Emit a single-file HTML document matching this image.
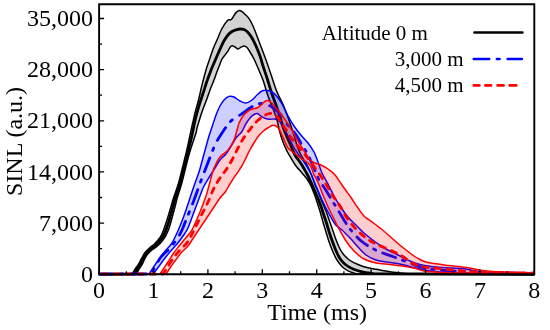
<!DOCTYPE html>
<html lang="en"><head><meta charset="utf-8"><title>SINL vs Time</title>
<style>html,body{margin:0;padding:0;background:#fff}body{width:550px;height:330px;overflow:hidden}svg{display:block}</style></head>
<body>
<svg width="550" height="330" viewBox="0 0 550 330">
<rect width="550" height="330" fill="#fff"/>
<g fill="none" stroke="#000" stroke-linejoin="round">
<path d="M132.5 274.0C132.8 273.3 133.8 271.2 134.5 270.0C135.2 268.8 135.8 268.0 136.5 267.0C137.2 266.0 137.7 265.6 138.6 264.0C139.5 262.4 140.9 259.6 142.0 257.6C143.1 255.7 143.9 253.9 145.2 252.3C146.4 250.7 147.9 249.5 149.5 248.0C151.1 246.5 153.2 245.4 155.0 243.5C156.8 241.6 159.0 239.3 160.6 236.7C162.2 234.1 163.1 231.1 164.3 228.0C165.5 224.9 166.6 221.3 167.6 218.0C168.6 214.7 169.6 211.3 170.6 208.0C171.6 204.7 172.6 201.0 173.5 198.0C174.4 195.0 175.4 192.7 176.3 190.0C177.2 187.3 178.1 185.0 178.9 182.0C179.8 179.0 180.5 175.7 181.4 172.0C182.3 168.3 183.4 164.0 184.4 160.0C185.4 156.0 186.3 152.5 187.3 148.0C188.3 143.5 189.7 136.7 190.5 133.0C191.3 129.3 191.2 129.3 192.0 126.0C192.8 122.7 193.9 117.3 195.0 113.0C196.1 108.7 197.2 105.0 198.5 100.0C199.8 95.0 201.2 88.0 202.5 83.0C203.8 78.0 204.8 74.2 206.0 70.0C207.2 65.8 208.8 61.7 210.0 58.0C211.2 54.3 212.3 51.0 213.5 48.0C214.7 45.0 215.6 43.2 217.0 40.0C218.4 36.8 220.2 31.8 222.0 28.5C223.8 25.2 226.0 22.0 227.5 20.5C229.0 19.0 230.0 20.4 231.0 19.7C232.0 19.0 232.7 17.5 233.5 16.3C234.3 15.1 235.0 13.6 236.0 12.6C237.0 11.6 238.4 10.8 239.4 10.6C240.4 10.4 241.2 11.1 242.0 11.6C242.8 12.1 243.2 12.6 244.3 13.7C245.4 14.8 247.2 16.1 248.5 17.9C249.8 19.7 251.1 21.9 252.3 24.5C253.6 27.1 254.5 29.6 256.0 33.5C257.5 37.4 259.8 43.6 261.5 48.0C263.2 52.4 264.3 55.3 266.0 60.0C267.7 64.7 269.7 70.7 271.5 76.0C273.3 81.3 274.8 86.7 277.0 92.0C279.2 97.3 282.2 102.3 284.5 108.0C286.8 113.7 289.3 121.2 291.0 126.0C292.7 130.8 293.4 133.5 294.5 137.0C295.6 140.5 296.5 144.2 297.5 147.0C298.5 149.8 299.4 151.8 300.5 154.0C301.6 156.2 302.8 157.8 304.0 160.0C305.2 162.2 306.7 164.4 308.0 167.0C309.3 169.6 310.5 172.6 311.7 175.5C312.9 178.4 313.8 181.3 315.0 184.4C316.2 187.5 317.8 190.9 319.0 194.0C320.2 197.1 321.3 200.2 322.5 203.0C323.7 205.8 324.8 208.0 326.0 211.0C327.2 214.0 328.3 217.7 329.5 221.0C330.7 224.3 331.8 227.7 333.0 231.0C334.2 234.3 335.3 238.0 336.5 241.0C337.7 244.0 338.8 246.7 340.0 249.0C341.2 251.3 342.3 253.1 344.0 255.0C345.7 256.9 347.7 258.9 350.0 260.5C352.3 262.1 355.3 263.4 358.0 264.5C360.7 265.6 363.0 266.5 366.0 267.3C369.0 268.1 372.7 268.7 376.0 269.3C379.3 269.9 382.7 270.4 386.0 271.0C389.3 271.6 392.3 272.1 396.0 272.6C399.7 273.1 406.0 273.6 408.0 273.8L356.0 273.8C354.7 273.3 350.3 272.0 348.0 270.8C345.7 269.6 343.8 268.3 342.0 266.5C340.2 264.7 338.5 262.4 337.0 260.0C335.5 257.6 334.2 254.8 333.0 252.0C331.8 249.2 330.7 246.3 329.5 243.0C328.3 239.7 327.1 235.5 326.0 232.0C324.9 228.5 323.9 225.2 323.0 222.0C322.1 218.8 321.3 215.8 320.5 213.0C319.7 210.2 318.9 207.8 318.0 205.0C317.1 202.2 316.2 199.2 315.0 196.0C313.8 192.8 312.3 188.8 311.0 186.0C309.7 183.2 308.5 181.2 307.0 179.0C305.5 176.8 303.8 175.2 302.0 173.0C300.2 170.8 297.8 168.5 296.0 166.0C294.2 163.5 292.5 160.5 291.0 158.0C289.5 155.5 288.3 153.7 287.0 151.0C285.7 148.3 284.2 145.3 283.0 142.0C281.8 138.7 280.5 134.7 279.5 131.0C278.5 127.3 278.0 123.5 277.0 120.0C276.0 116.5 275.0 114.0 273.5 110.0C272.0 106.0 269.8 101.0 268.0 96.0C266.2 91.0 264.7 84.7 263.0 80.0C261.3 75.3 259.5 71.5 258.0 68.0C256.5 64.5 255.3 61.7 254.0 59.0C252.7 56.3 251.2 53.9 250.0 52.0C248.8 50.1 248.0 48.5 247.0 47.5C246.0 46.5 245.0 46.0 244.0 46.0C243.0 46.0 242.0 46.7 241.0 47.2C240.0 47.7 239.0 49.0 238.0 49.0C237.0 49.0 236.0 47.5 235.0 47.0C234.0 46.5 232.8 45.7 232.0 45.8C231.2 45.9 230.7 46.6 230.0 47.5C229.3 48.4 228.8 49.8 228.0 51.0C227.2 52.2 226.0 53.7 225.0 55.0C224.0 56.3 222.8 57.5 222.0 59.0C221.2 60.5 220.7 62.3 220.0 64.0C219.3 65.7 218.6 67.5 218.0 69.0C217.4 70.5 217.2 71.2 216.5 73.0C215.8 74.8 215.1 77.2 214.0 80.0C212.9 82.8 211.2 86.7 210.0 90.0C208.8 93.3 207.7 96.8 206.5 100.0C205.3 103.2 204.1 106.0 203.0 109.0C201.9 112.0 201.0 114.8 200.0 118.0C199.0 121.2 197.7 125.5 197.0 128.0C196.3 130.5 197.0 129.7 196.0 133.0C195.0 136.3 192.4 143.5 191.0 148.0C189.6 152.5 188.7 156.0 187.6 160.0C186.5 164.0 185.5 168.3 184.6 172.0C183.7 175.7 182.9 179.0 182.1 182.0C181.3 185.0 180.5 187.3 179.7 190.0C178.9 192.7 178.0 195.0 177.2 198.0C176.4 201.0 175.6 204.7 174.7 208.0C173.8 211.3 172.9 214.7 172.0 218.0C171.1 221.3 170.1 225.1 169.1 228.0C168.1 230.9 167.1 233.3 165.8 235.6C164.5 237.9 163.0 240.1 161.4 242.0C159.8 243.9 157.8 245.7 156.0 247.2C154.2 248.7 152.3 249.5 150.7 251.0C149.1 252.5 147.6 254.0 146.2 256.2C144.8 258.4 143.3 262.2 142.4 264.0C141.5 265.8 141.2 266.0 140.5 267.0C139.8 268.0 139.2 268.8 138.5 270.0C137.8 271.2 136.8 273.3 136.5 274.0Z" fill="#d3d3d3" stroke="none"/>
<path d="M132.5 274.0C132.8 273.3 133.8 271.2 134.5 270.0C135.2 268.8 135.8 268.0 136.5 267.0C137.2 266.0 137.7 265.6 138.6 264.0C139.5 262.4 140.9 259.6 142.0 257.6C143.1 255.7 143.9 253.9 145.2 252.3C146.4 250.7 147.9 249.5 149.5 248.0C151.1 246.5 153.2 245.4 155.0 243.5C156.8 241.6 159.0 239.3 160.6 236.7C162.2 234.1 163.1 231.1 164.3 228.0C165.5 224.9 166.6 221.3 167.6 218.0C168.6 214.7 169.6 211.3 170.6 208.0C171.6 204.7 172.6 201.0 173.5 198.0C174.4 195.0 175.4 192.7 176.3 190.0C177.2 187.3 178.1 185.0 178.9 182.0C179.8 179.0 180.5 175.7 181.4 172.0C182.3 168.3 183.4 164.0 184.4 160.0C185.4 156.0 186.3 152.5 187.3 148.0C188.3 143.5 189.7 136.7 190.5 133.0C191.3 129.3 191.2 129.3 192.0 126.0C192.8 122.7 193.9 117.3 195.0 113.0C196.1 108.7 197.2 105.0 198.5 100.0C199.8 95.0 201.2 88.0 202.5 83.0C203.8 78.0 204.8 74.2 206.0 70.0C207.2 65.8 208.8 61.7 210.0 58.0C211.2 54.3 212.3 51.0 213.5 48.0C214.7 45.0 215.6 43.2 217.0 40.0C218.4 36.8 220.2 31.8 222.0 28.5C223.8 25.2 226.0 22.0 227.5 20.5C229.0 19.0 230.0 20.4 231.0 19.7C232.0 19.0 232.7 17.5 233.5 16.3C234.3 15.1 235.0 13.6 236.0 12.6C237.0 11.6 238.4 10.8 239.4 10.6C240.4 10.4 241.2 11.1 242.0 11.6C242.8 12.1 243.2 12.6 244.3 13.7C245.4 14.8 247.2 16.1 248.5 17.9C249.8 19.7 251.1 21.9 252.3 24.5C253.6 27.1 254.5 29.6 256.0 33.5C257.5 37.4 259.8 43.6 261.5 48.0C263.2 52.4 264.3 55.3 266.0 60.0C267.7 64.7 269.7 70.7 271.5 76.0C273.3 81.3 274.8 86.7 277.0 92.0C279.2 97.3 282.2 102.3 284.5 108.0C286.8 113.7 289.3 121.2 291.0 126.0C292.7 130.8 293.4 133.5 294.5 137.0C295.6 140.5 296.5 144.2 297.5 147.0C298.5 149.8 299.4 151.8 300.5 154.0C301.6 156.2 302.8 157.8 304.0 160.0C305.2 162.2 306.7 164.4 308.0 167.0C309.3 169.6 310.5 172.6 311.7 175.5C312.9 178.4 313.8 181.3 315.0 184.4C316.2 187.5 317.8 190.9 319.0 194.0C320.2 197.1 321.3 200.2 322.5 203.0C323.7 205.8 324.8 208.0 326.0 211.0C327.2 214.0 328.3 217.7 329.5 221.0C330.7 224.3 331.8 227.7 333.0 231.0C334.2 234.3 335.3 238.0 336.5 241.0C337.7 244.0 338.8 246.7 340.0 249.0C341.2 251.3 342.3 253.1 344.0 255.0C345.7 256.9 347.7 258.9 350.0 260.5C352.3 262.1 355.3 263.4 358.0 264.5C360.7 265.6 363.0 266.5 366.0 267.3C369.0 268.1 372.7 268.7 376.0 269.3C379.3 269.9 382.7 270.4 386.0 271.0C389.3 271.6 392.3 272.1 396.0 272.6C399.7 273.1 406.0 273.6 408.0 273.8L534.3 274.4" stroke-width="1.5"/>
<path d="M136.5 274.0C136.8 273.3 137.8 271.2 138.5 270.0C139.2 268.8 139.8 268.0 140.5 267.0C141.2 266.0 141.5 265.8 142.4 264.0C143.3 262.2 144.8 258.4 146.2 256.2C147.6 254.0 149.1 252.5 150.7 251.0C152.3 249.5 154.2 248.7 156.0 247.2C157.8 245.7 159.8 243.9 161.4 242.0C163.0 240.1 164.5 237.9 165.8 235.6C167.1 233.3 168.1 230.9 169.1 228.0C170.1 225.1 171.1 221.3 172.0 218.0C172.9 214.7 173.8 211.3 174.7 208.0C175.6 204.7 176.4 201.0 177.2 198.0C178.0 195.0 178.9 192.7 179.7 190.0C180.5 187.3 181.3 185.0 182.1 182.0C182.9 179.0 183.7 175.7 184.6 172.0C185.5 168.3 186.5 164.0 187.6 160.0C188.7 156.0 189.6 152.5 191.0 148.0C192.4 143.5 195.0 136.3 196.0 133.0C197.0 129.7 196.3 130.5 197.0 128.0C197.7 125.5 199.0 121.2 200.0 118.0C201.0 114.8 201.9 112.0 203.0 109.0C204.1 106.0 205.3 103.2 206.5 100.0C207.7 96.8 208.8 93.3 210.0 90.0C211.2 86.7 212.9 82.8 214.0 80.0C215.1 77.2 215.8 74.8 216.5 73.0C217.2 71.2 217.4 70.5 218.0 69.0C218.6 67.5 219.3 65.7 220.0 64.0C220.7 62.3 221.2 60.5 222.0 59.0C222.8 57.5 224.0 56.3 225.0 55.0C226.0 53.7 227.2 52.2 228.0 51.0C228.8 49.8 229.3 48.4 230.0 47.5C230.7 46.6 231.2 45.9 232.0 45.8C232.8 45.7 234.0 46.5 235.0 47.0C236.0 47.5 237.0 49.0 238.0 49.0C239.0 49.0 240.0 47.7 241.0 47.2C242.0 46.7 243.0 46.0 244.0 46.0C245.0 46.0 246.0 46.5 247.0 47.5C248.0 48.5 248.8 50.1 250.0 52.0C251.2 53.9 252.7 56.3 254.0 59.0C255.3 61.7 256.5 64.5 258.0 68.0C259.5 71.5 261.3 75.3 263.0 80.0C264.7 84.7 266.2 91.0 268.0 96.0C269.8 101.0 272.0 106.0 273.5 110.0C275.0 114.0 276.0 116.5 277.0 120.0C278.0 123.5 278.5 127.3 279.5 131.0C280.5 134.7 281.8 138.7 283.0 142.0C284.2 145.3 285.7 148.3 287.0 151.0C288.3 153.7 289.5 155.5 291.0 158.0C292.5 160.5 294.2 163.5 296.0 166.0C297.8 168.5 300.2 170.8 302.0 173.0C303.8 175.2 305.5 176.8 307.0 179.0C308.5 181.2 309.7 183.2 311.0 186.0C312.3 188.8 313.8 192.8 315.0 196.0C316.2 199.2 317.1 202.2 318.0 205.0C318.9 207.8 319.7 210.2 320.5 213.0C321.3 215.8 322.1 218.8 323.0 222.0C323.9 225.2 324.9 228.5 326.0 232.0C327.1 235.5 328.3 239.7 329.5 243.0C330.7 246.3 331.8 249.2 333.0 252.0C334.2 254.8 335.5 257.6 337.0 260.0C338.5 262.4 340.2 264.7 342.0 266.5C343.8 268.3 345.7 269.6 348.0 270.8C350.3 272.0 354.7 273.3 356.0 273.8L534.3 274.4" stroke-width="1.5"/>
<path d="M100 274.4L134.5 274.0C134.8 273.3 135.8 271.2 136.5 270.0C137.2 268.8 137.8 268.0 138.5 267.0C139.2 266.0 139.6 265.7 140.5 264.0C141.4 262.3 142.8 258.9 144.1 256.9C145.3 254.8 146.6 253.2 148.0 251.7C149.4 250.1 151.1 249.1 152.8 247.6C154.5 246.1 156.5 244.7 158.2 242.8C159.9 240.9 161.8 238.7 163.2 236.2C164.6 233.7 165.6 231.0 166.7 228.0C167.8 225.0 168.8 221.3 169.8 218.0C170.8 214.7 171.7 211.3 172.6 208.0C173.5 204.7 174.4 201.0 175.3 198.0C176.2 195.0 177.1 192.7 178.0 190.0C178.9 187.3 179.7 185.0 180.5 182.0C181.3 179.0 182.1 175.7 183.0 172.0C183.9 168.3 185.0 164.0 186.0 160.0C187.0 156.0 187.9 152.5 189.0 148.0C190.1 143.5 191.6 137.2 192.5 133.0C193.4 128.8 193.7 126.7 194.5 123.0C195.3 119.3 196.5 114.7 197.5 111.0C198.5 107.3 199.5 104.2 200.5 101.0C201.5 97.8 202.4 95.3 203.5 92.0C204.6 88.7 205.8 84.4 207.0 81.0C208.2 77.6 209.4 74.4 210.5 71.5C211.6 68.6 212.7 66.1 213.8 63.5C214.9 60.9 215.8 58.8 217.0 56.0C218.2 53.2 219.8 49.7 221.0 47.0C222.2 44.3 223.3 42.0 224.5 40.0C225.7 38.0 226.8 36.4 228.0 35.0C229.2 33.6 230.7 32.4 232.0 31.5C233.3 30.6 234.7 30.2 236.0 29.8C237.3 29.4 238.7 29.0 240.0 29.0C241.3 29.0 242.7 29.0 244.0 29.6C245.3 30.2 246.7 31.1 248.0 32.5C249.3 33.9 250.7 35.8 252.0 38.0C253.3 40.2 254.7 43.0 256.0 46.0C257.3 49.0 258.8 52.7 260.0 56.0C261.2 59.3 261.8 62.3 263.0 66.0C264.2 69.7 265.5 73.3 267.0 78.0C268.5 82.7 270.5 89.5 272.0 94.0C273.5 98.5 274.7 101.2 276.0 105.0C277.3 108.8 278.8 113.3 280.0 117.0C281.2 120.7 281.8 123.7 283.0 127.0C284.2 130.3 285.7 133.8 287.0 137.0C288.3 140.2 289.7 143.0 291.0 146.0C292.3 149.0 293.8 152.7 295.0 155.0C296.2 157.3 297.2 158.2 298.5 160.0C299.8 161.8 301.2 163.8 302.5 166.0C303.8 168.2 305.2 170.7 306.5 173.0C307.8 175.3 308.8 177.5 310.0 180.0C311.2 182.5 312.3 185.3 313.5 188.0C314.7 190.7 315.8 193.2 317.0 196.0C318.2 198.8 319.4 202.0 320.5 205.0C321.6 208.0 322.5 211.0 323.5 214.0C324.5 217.0 325.5 219.8 326.5 223.0C327.5 226.2 328.4 229.7 329.5 233.0C330.6 236.3 331.8 239.7 333.0 243.0C334.2 246.3 335.7 250.2 337.0 253.0C338.3 255.8 339.5 258.0 341.0 260.0C342.5 262.0 344.0 263.5 346.0 265.0C348.0 266.5 350.3 267.9 353.0 269.0C355.7 270.1 358.5 271.0 362.0 271.8C365.5 272.6 372.0 273.3 374.0 273.6L533.6 274.4" stroke-width="2.8" stroke-linecap="round"/>
</g>
<g fill="none" stroke="#0000ff" stroke-linejoin="round">
<path d="M149.0 274.0C149.7 273.0 151.7 270.0 153.0 268.0C154.3 266.0 155.5 264.2 157.0 262.0C158.5 259.8 160.3 257.2 162.0 255.0C163.7 252.8 165.3 251.0 167.0 249.0C168.7 247.0 170.3 245.7 172.0 243.0C173.7 240.3 175.3 236.7 177.0 233.0C178.7 229.3 180.5 224.8 182.0 221.0C183.5 217.2 184.7 213.8 186.0 210.0C187.3 206.2 188.7 202.0 190.0 198.0C191.3 194.0 192.5 190.3 194.0 186.0C195.5 181.7 197.3 177.3 199.0 172.0C200.7 166.7 202.3 160.0 204.0 154.0C205.7 148.0 207.5 141.0 209.0 136.0C210.5 131.0 211.8 127.7 213.0 124.0C214.2 120.3 215.2 117.0 216.4 114.0C217.6 111.0 218.7 108.3 220.0 106.0C221.3 103.7 222.5 101.6 224.0 100.0C225.5 98.4 227.3 96.9 229.0 96.4C230.7 95.9 232.2 96.2 234.0 97.0C235.8 97.8 238.0 100.0 240.0 101.0C242.0 102.0 244.0 103.2 246.0 103.0C248.0 102.8 250.2 101.3 252.0 100.0C253.8 98.7 255.3 96.5 257.0 95.0C258.7 93.5 260.3 91.8 262.0 91.0C263.7 90.2 265.3 90.2 267.0 90.4C268.7 90.6 270.3 91.0 272.0 92.0C273.7 93.0 275.3 94.5 277.0 96.5C278.7 98.5 280.2 100.8 282.0 104.0C283.8 107.2 286.0 112.3 288.0 116.0C290.0 119.7 292.0 123.0 294.0 126.0C296.0 129.0 297.7 131.2 300.0 134.0C302.3 136.8 305.7 140.0 308.0 143.0C310.3 146.0 312.3 148.8 314.0 152.0C315.7 155.2 316.7 158.5 318.0 162.0C319.3 165.5 320.3 169.3 322.0 173.0C323.7 176.7 326.0 180.2 328.0 184.0C330.0 187.8 332.0 192.3 334.0 196.0C336.0 199.7 337.7 202.5 340.0 206.0C342.3 209.5 345.3 213.8 348.0 217.0C350.7 220.2 353.3 222.3 356.0 225.0C358.7 227.7 361.0 230.3 364.0 233.0C367.0 235.7 370.3 238.3 374.0 241.0C377.7 243.7 382.0 246.7 386.0 249.0C390.0 251.3 394.0 253.0 398.0 255.0C402.0 257.0 406.3 259.4 410.0 261.0C413.7 262.6 415.7 263.5 420.0 264.5C424.3 265.5 430.7 266.4 436.0 267.0C441.3 267.6 446.7 267.6 452.0 268.0C457.3 268.4 463.3 268.7 468.0 269.4C472.7 270.1 476.0 271.4 480.0 272.0C484.0 272.6 487.0 273.0 492.0 273.2C497.0 273.4 507.0 273.2 510.0 273.2L480.0 273.2C476.7 273.2 466.7 273.4 460.0 273.2C453.3 273.0 446.0 272.5 440.0 272.0C434.0 271.5 428.3 270.8 424.0 270.0C419.7 269.2 417.7 268.4 414.0 267.5C410.3 266.6 406.0 265.3 402.0 264.5C398.0 263.7 394.3 263.2 390.0 262.5C385.7 261.8 380.0 261.2 376.0 260.0C372.0 258.8 369.0 257.2 366.0 255.0C363.0 252.8 360.7 249.8 358.0 247.0C355.3 244.2 352.7 240.8 350.0 238.0C347.3 235.2 344.5 232.3 342.0 230.0C339.5 227.7 337.3 227.0 335.0 224.0C332.7 221.0 330.2 216.0 328.0 212.0C325.8 208.0 324.0 204.3 322.0 200.0C320.0 195.7 318.0 190.7 316.0 186.0C314.0 181.3 312.0 176.0 310.0 172.0C308.0 168.0 306.0 165.0 304.0 162.0C302.0 159.0 299.8 156.7 298.0 154.0C296.2 151.3 294.7 149.0 293.0 146.0C291.3 143.0 289.5 139.0 288.0 136.0C286.5 133.0 285.3 130.3 284.0 128.0C282.7 125.7 281.5 123.5 280.0 122.0C278.5 120.5 276.9 119.5 275.0 119.0C273.1 118.5 270.9 119.7 268.7 119.3C266.5 118.9 263.9 117.8 262.0 116.8C260.1 115.8 258.8 113.9 257.5 113.5C256.2 113.1 255.2 113.8 254.0 114.5C252.8 115.2 251.4 116.4 250.0 118.0C248.6 119.6 247.2 121.7 245.8 124.0C244.4 126.3 243.3 129.7 241.7 132.0C240.1 134.3 237.9 135.3 236.0 138.0C234.1 140.7 231.7 145.3 230.0 148.0C228.3 150.7 227.7 152.0 226.0 154.0C224.3 156.0 221.8 157.7 220.0 160.0C218.2 162.3 216.7 165.3 215.0 168.0C213.3 170.7 211.8 173.0 210.0 176.0C208.2 179.0 205.7 182.7 204.0 186.0C202.3 189.3 201.7 191.7 200.0 196.0C198.3 200.3 196.0 206.7 194.0 212.0C192.0 217.3 189.8 224.0 188.0 228.0C186.2 232.0 184.8 233.3 183.0 236.0C181.2 238.7 179.3 241.2 177.0 244.0C174.7 246.8 171.5 250.0 169.0 253.0C166.5 256.0 164.0 259.3 162.0 262.0C160.0 264.7 158.5 267.0 157.0 269.0C155.5 271.0 153.7 273.2 153.0 274.0Z" fill="#0000ff" fill-opacity="0.19" stroke="none"/>
<path d="M149.0 274.0C149.7 273.0 151.7 270.0 153.0 268.0C154.3 266.0 155.5 264.2 157.0 262.0C158.5 259.8 160.3 257.2 162.0 255.0C163.7 252.8 165.3 251.0 167.0 249.0C168.7 247.0 170.3 245.7 172.0 243.0C173.7 240.3 175.3 236.7 177.0 233.0C178.7 229.3 180.5 224.8 182.0 221.0C183.5 217.2 184.7 213.8 186.0 210.0C187.3 206.2 188.7 202.0 190.0 198.0C191.3 194.0 192.5 190.3 194.0 186.0C195.5 181.7 197.3 177.3 199.0 172.0C200.7 166.7 202.3 160.0 204.0 154.0C205.7 148.0 207.5 141.0 209.0 136.0C210.5 131.0 211.8 127.7 213.0 124.0C214.2 120.3 215.2 117.0 216.4 114.0C217.6 111.0 218.7 108.3 220.0 106.0C221.3 103.7 222.5 101.6 224.0 100.0C225.5 98.4 227.3 96.9 229.0 96.4C230.7 95.9 232.2 96.2 234.0 97.0C235.8 97.8 238.0 100.0 240.0 101.0C242.0 102.0 244.0 103.2 246.0 103.0C248.0 102.8 250.2 101.3 252.0 100.0C253.8 98.7 255.3 96.5 257.0 95.0C258.7 93.5 260.3 91.8 262.0 91.0C263.7 90.2 265.3 90.2 267.0 90.4C268.7 90.6 270.3 91.0 272.0 92.0C273.7 93.0 275.3 94.5 277.0 96.5C278.7 98.5 280.2 100.8 282.0 104.0C283.8 107.2 286.0 112.3 288.0 116.0C290.0 119.7 292.0 123.0 294.0 126.0C296.0 129.0 297.7 131.2 300.0 134.0C302.3 136.8 305.7 140.0 308.0 143.0C310.3 146.0 312.3 148.8 314.0 152.0C315.7 155.2 316.7 158.5 318.0 162.0C319.3 165.5 320.3 169.3 322.0 173.0C323.7 176.7 326.0 180.2 328.0 184.0C330.0 187.8 332.0 192.3 334.0 196.0C336.0 199.7 337.7 202.5 340.0 206.0C342.3 209.5 345.3 213.8 348.0 217.0C350.7 220.2 353.3 222.3 356.0 225.0C358.7 227.7 361.0 230.3 364.0 233.0C367.0 235.7 370.3 238.3 374.0 241.0C377.7 243.7 382.0 246.7 386.0 249.0C390.0 251.3 394.0 253.0 398.0 255.0C402.0 257.0 406.3 259.4 410.0 261.0C413.7 262.6 415.7 263.5 420.0 264.5C424.3 265.5 430.7 266.4 436.0 267.0C441.3 267.6 446.7 267.6 452.0 268.0C457.3 268.4 463.3 268.7 468.0 269.4C472.7 270.1 476.0 271.4 480.0 272.0C484.0 272.6 487.0 273.0 492.0 273.2C497.0 273.4 507.0 273.2 510.0 273.2L534.3 273.4" stroke-width="1.5"/>
<path d="M153.0 274.0C153.7 273.2 155.5 271.0 157.0 269.0C158.5 267.0 160.0 264.7 162.0 262.0C164.0 259.3 166.5 256.0 169.0 253.0C171.5 250.0 174.7 246.8 177.0 244.0C179.3 241.2 181.2 238.7 183.0 236.0C184.8 233.3 186.2 232.0 188.0 228.0C189.8 224.0 192.0 217.3 194.0 212.0C196.0 206.7 198.3 200.3 200.0 196.0C201.7 191.7 202.3 189.3 204.0 186.0C205.7 182.7 208.2 179.0 210.0 176.0C211.8 173.0 213.3 170.7 215.0 168.0C216.7 165.3 218.2 162.3 220.0 160.0C221.8 157.7 224.3 156.0 226.0 154.0C227.7 152.0 228.3 150.7 230.0 148.0C231.7 145.3 234.1 140.7 236.0 138.0C237.9 135.3 240.1 134.3 241.7 132.0C243.3 129.7 244.4 126.3 245.8 124.0C247.2 121.7 248.6 119.6 250.0 118.0C251.4 116.4 252.8 115.2 254.0 114.5C255.2 113.8 256.2 113.1 257.5 113.5C258.8 113.9 260.1 115.8 262.0 116.8C263.9 117.8 266.5 118.9 268.7 119.3C270.9 119.7 273.1 118.5 275.0 119.0C276.9 119.5 278.5 120.5 280.0 122.0C281.5 123.5 282.7 125.7 284.0 128.0C285.3 130.3 286.5 133.0 288.0 136.0C289.5 139.0 291.3 143.0 293.0 146.0C294.7 149.0 296.2 151.3 298.0 154.0C299.8 156.7 302.0 159.0 304.0 162.0C306.0 165.0 308.0 168.0 310.0 172.0C312.0 176.0 314.0 181.3 316.0 186.0C318.0 190.7 320.0 195.7 322.0 200.0C324.0 204.3 325.8 208.0 328.0 212.0C330.2 216.0 332.7 221.0 335.0 224.0C337.3 227.0 339.5 227.7 342.0 230.0C344.5 232.3 347.3 235.2 350.0 238.0C352.7 240.8 355.3 244.2 358.0 247.0C360.7 249.8 363.0 252.8 366.0 255.0C369.0 257.2 372.0 258.8 376.0 260.0C380.0 261.2 385.7 261.8 390.0 262.5C394.3 263.2 398.0 263.7 402.0 264.5C406.0 265.3 410.3 266.6 414.0 267.5C417.7 268.4 419.7 269.2 424.0 270.0C428.3 270.8 434.0 271.5 440.0 272.0C446.0 272.5 453.3 273.0 460.0 273.2C466.7 273.4 476.7 273.2 480.0 273.2L534.3 273.4" stroke-width="1.5"/>
<path d="M100 274.0L151.0 274.0C151.7 272.8 153.3 269.8 155.0 267.0C156.7 264.2 158.7 260.0 161.0 257.0C163.3 254.0 166.3 252.0 169.0 249.0C171.7 246.0 174.8 242.2 177.0 239.0C179.2 235.8 180.5 233.2 182.0 230.0C183.5 226.8 184.6 223.5 186.0 220.0C187.4 216.5 188.9 213.0 190.5 209.0C192.1 205.0 193.8 200.5 195.5 196.0C197.2 191.5 198.8 186.5 200.5 182.0C202.2 177.5 203.8 173.3 205.5 169.0C207.2 164.7 208.7 160.5 210.5 156.0C212.3 151.5 214.2 146.3 216.5 142.0C218.8 137.7 221.6 133.5 224.0 130.0C226.4 126.5 228.2 123.6 231.0 121.0C233.8 118.4 237.8 116.6 241.0 114.4C244.2 112.2 247.4 109.7 250.0 108.0C252.6 106.3 254.5 105.0 256.5 104.2C258.5 103.5 260.4 103.5 262.0 103.5C263.6 103.5 264.3 103.9 266.0 104.5C267.7 105.1 269.8 105.6 272.0 107.0C274.2 108.4 277.0 110.9 279.0 113.0C281.0 115.1 282.7 117.7 284.0 119.5" stroke-width="2.8" stroke-linecap="round" stroke-dasharray="15 8 2.5 8.5" stroke-dashoffset="2.5"/>
<path d="M284.0 119.5C285.3 121.3 285.8 122.3 287.0 124.0C288.2 125.7 290.1 127.8 291.5 129.5C292.9 131.2 293.9 131.8 295.5 134.0C297.1 136.2 299.1 140.1 300.8 143.0C302.6 145.9 304.6 148.8 306.0 151.3C307.4 153.8 308.3 155.6 309.5 158.0C310.7 160.4 311.9 163.5 313.0 166.0C314.1 168.5 315.0 170.7 316.0 173.0C317.0 175.3 318.1 178.2 319.0 180.0C319.9 181.8 320.2 181.5 321.5 183.5C322.8 185.5 325.1 188.9 327.0 192.0C328.9 195.1 331.2 199.0 333.0 202.0C334.8 205.0 336.2 207.0 338.0 210.0C339.8 213.0 342.0 216.8 344.0 220.0C346.0 223.2 347.3 225.7 350.0 229.0C352.7 232.3 356.7 237.0 360.0 240.0C363.3 243.0 366.7 245.0 370.0 247.0C373.3 249.0 376.0 250.3 380.0 252.0C384.0 253.7 389.0 255.2 394.0 257.0C399.0 258.8 405.0 261.2 410.0 263.0C415.0 264.8 419.0 266.8 424.0 268.0C429.0 269.2 434.0 269.4 440.0 270.0C446.0 270.6 453.3 271.0 460.0 271.4C466.7 271.8 473.3 272.3 480.0 272.6C486.7 272.9 493.3 272.9 500.0 273.0C506.7 273.1 516.7 273.2 520.0 273.2L533.6 273.4" stroke-width="2.8" stroke-linecap="round" stroke-dasharray="13.6 7.2 2.3 7.7" stroke-dashoffset="15.2"/>
</g>
<g fill="none" stroke="#ff0000" stroke-linejoin="round">
<path d="M160.0 274.0C160.7 273.0 162.7 270.0 164.0 268.0C165.3 266.0 166.5 264.3 168.0 262.0C169.5 259.7 171.2 256.7 173.0 254.0C174.8 251.3 177.2 248.3 179.0 246.0C180.8 243.7 182.3 242.0 184.0 240.0C185.7 238.0 187.5 236.0 189.0 234.0C190.5 232.0 191.2 231.7 193.0 228.0C194.8 224.3 197.8 217.3 200.0 212.0C202.2 206.7 204.3 201.0 206.0 196.0C207.7 191.0 208.7 186.7 210.0 182.0C211.3 177.3 212.3 172.2 214.0 168.0C215.7 163.8 217.7 160.0 220.0 157.0C222.3 154.0 225.7 152.8 228.0 150.0C230.3 147.2 232.5 143.3 234.0 140.0C235.5 136.7 236.1 132.9 237.0 130.0C237.9 127.1 238.1 125.1 239.3 122.5C240.5 119.9 242.3 116.6 244.2 114.4C246.1 112.2 248.5 110.6 250.7 109.5C252.9 108.4 255.4 108.7 257.3 107.8C259.2 106.9 260.9 105.1 262.2 104.0C263.5 102.9 264.0 101.9 265.0 101.3C266.0 100.7 266.8 100.2 268.0 100.5C269.2 100.8 270.7 101.8 272.0 103.0C273.3 104.2 274.5 106.2 276.0 108.0C277.5 109.8 279.3 111.8 281.0 114.0C282.7 116.2 284.5 118.8 286.0 121.0C287.5 123.2 288.8 125.7 290.0 127.5C291.2 129.3 292.0 130.3 293.0 132.0C294.0 133.7 294.9 135.9 296.0 137.8C297.1 139.7 298.3 141.7 299.5 143.6C300.7 145.5 302.0 147.6 303.2 149.5C304.4 151.4 305.7 153.2 306.8 155.0C307.9 156.8 308.6 158.7 310.0 160.0C311.4 161.3 313.2 162.2 315.0 163.0C316.8 163.8 318.8 164.0 321.0 165.0C323.2 166.0 325.7 167.3 328.0 169.0C330.3 170.7 332.7 172.3 335.0 175.0C337.3 177.7 340.0 182.2 342.0 185.0C344.0 187.8 345.3 189.7 347.0 192.0C348.7 194.3 350.2 196.3 352.0 199.0C353.8 201.7 356.0 205.2 358.0 208.0C360.0 210.8 361.3 213.4 364.0 216.0C366.7 218.6 371.0 221.2 374.0 223.5C377.0 225.8 379.3 227.3 382.0 229.5C384.7 231.7 387.3 234.2 390.0 236.5C392.7 238.8 395.3 241.2 398.0 243.5C400.7 245.8 403.3 247.9 406.0 250.0C408.7 252.1 411.7 254.4 414.0 256.0C416.3 257.6 418.0 258.5 420.0 259.5C422.0 260.5 423.3 261.3 426.0 262.0C428.7 262.7 432.3 263.2 436.0 263.8C439.7 264.4 444.0 264.9 448.0 265.4C452.0 265.9 456.0 266.3 460.0 266.8C464.0 267.3 468.7 268.0 472.0 268.6C475.3 269.2 477.0 269.8 480.0 270.2C483.0 270.6 485.8 270.9 490.0 271.2C494.2 271.5 500.0 271.7 505.0 271.9C510.0 272.1 517.5 272.2 520.0 272.3L480.0 273.2C476.7 273.2 466.7 273.1 460.0 273.0C453.3 272.9 446.0 272.7 440.0 272.4C434.0 272.1 428.3 271.7 424.0 271.0C419.7 270.3 417.7 268.8 414.0 268.0C410.3 267.2 406.0 266.6 402.0 266.0C398.0 265.4 394.3 265.0 390.0 264.5C385.7 264.0 380.3 263.9 376.0 263.0C371.7 262.1 367.7 261.0 364.0 259.0C360.3 257.0 357.0 254.0 354.0 251.0C351.0 248.0 348.7 245.0 346.0 241.0C343.3 237.0 340.3 231.3 338.0 227.0C335.7 222.7 333.6 218.2 332.0 215.0C330.4 211.8 329.6 210.3 328.5 208.0C327.4 205.7 326.5 203.3 325.5 201.0C324.5 198.7 323.5 196.5 322.5 194.0C321.5 191.5 320.6 188.6 319.5 186.0C318.4 183.4 317.0 180.5 316.0 178.5C315.0 176.5 314.4 175.8 313.6 174.0C312.9 172.2 312.4 169.8 311.5 168.0C310.6 166.2 309.4 164.4 308.0 163.0C306.6 161.6 304.8 160.8 303.0 159.5C301.2 158.2 298.8 156.8 297.0 155.5C295.2 154.2 293.5 152.8 292.0 151.5C290.5 150.2 289.2 149.6 288.0 148.0C286.8 146.4 286.0 144.2 285.0 142.0C284.0 139.8 283.0 137.2 282.0 135.0C281.0 132.8 280.0 130.5 279.0 129.0C278.0 127.5 277.2 126.6 276.0 126.0C274.8 125.4 273.2 125.2 272.0 125.5C270.8 125.8 269.8 126.7 268.5 127.5C267.2 128.3 265.7 129.1 264.0 130.5C262.3 131.9 260.2 133.9 258.5 136.0C256.8 138.1 255.4 140.7 254.0 143.0C252.6 145.3 251.1 147.5 249.8 150.0C248.5 152.5 247.3 155.2 246.0 157.8C244.7 160.4 243.5 163.0 242.2 165.3C240.9 167.6 239.6 169.5 238.2 171.6C236.8 173.7 235.2 175.7 233.8 177.8C232.4 179.9 231.1 182.1 229.7 184.4C228.3 186.7 227.2 189.2 225.6 191.5C224.0 193.8 222.3 194.9 220.0 198.0C217.7 201.1 214.7 206.0 212.0 210.0C209.3 214.0 206.7 218.0 204.0 222.0C201.3 226.0 198.0 231.0 196.0 234.0C194.0 237.0 193.3 238.0 192.0 240.0C190.7 242.0 189.8 243.8 188.0 246.0C186.2 248.2 183.2 250.5 181.0 253.0C178.8 255.5 176.8 258.5 175.0 261.0C173.2 263.5 171.5 265.8 170.0 268.0C168.5 270.2 166.7 273.0 166.0 274.0Z" fill="#ff0000" fill-opacity="0.19" stroke="none"/>
<path d="M160.0 274.0C160.7 273.0 162.7 270.0 164.0 268.0C165.3 266.0 166.5 264.3 168.0 262.0C169.5 259.7 171.2 256.7 173.0 254.0C174.8 251.3 177.2 248.3 179.0 246.0C180.8 243.7 182.3 242.0 184.0 240.0C185.7 238.0 187.5 236.0 189.0 234.0C190.5 232.0 191.2 231.7 193.0 228.0C194.8 224.3 197.8 217.3 200.0 212.0C202.2 206.7 204.3 201.0 206.0 196.0C207.7 191.0 208.7 186.7 210.0 182.0C211.3 177.3 212.3 172.2 214.0 168.0C215.7 163.8 217.7 160.0 220.0 157.0C222.3 154.0 225.7 152.8 228.0 150.0C230.3 147.2 232.5 143.3 234.0 140.0C235.5 136.7 236.1 132.9 237.0 130.0C237.9 127.1 238.1 125.1 239.3 122.5C240.5 119.9 242.3 116.6 244.2 114.4C246.1 112.2 248.5 110.6 250.7 109.5C252.9 108.4 255.4 108.7 257.3 107.8C259.2 106.9 260.9 105.1 262.2 104.0C263.5 102.9 264.0 101.9 265.0 101.3C266.0 100.7 266.8 100.2 268.0 100.5C269.2 100.8 270.7 101.8 272.0 103.0C273.3 104.2 274.5 106.2 276.0 108.0C277.5 109.8 279.3 111.8 281.0 114.0C282.7 116.2 284.5 118.8 286.0 121.0C287.5 123.2 288.8 125.7 290.0 127.5C291.2 129.3 292.0 130.3 293.0 132.0C294.0 133.7 294.9 135.9 296.0 137.8C297.1 139.7 298.3 141.7 299.5 143.6C300.7 145.5 302.0 147.6 303.2 149.5C304.4 151.4 305.7 153.2 306.8 155.0C307.9 156.8 308.6 158.7 310.0 160.0C311.4 161.3 313.2 162.2 315.0 163.0C316.8 163.8 318.8 164.0 321.0 165.0C323.2 166.0 325.7 167.3 328.0 169.0C330.3 170.7 332.7 172.3 335.0 175.0C337.3 177.7 340.0 182.2 342.0 185.0C344.0 187.8 345.3 189.7 347.0 192.0C348.7 194.3 350.2 196.3 352.0 199.0C353.8 201.7 356.0 205.2 358.0 208.0C360.0 210.8 361.3 213.4 364.0 216.0C366.7 218.6 371.0 221.2 374.0 223.5C377.0 225.8 379.3 227.3 382.0 229.5C384.7 231.7 387.3 234.2 390.0 236.5C392.7 238.8 395.3 241.2 398.0 243.5C400.7 245.8 403.3 247.9 406.0 250.0C408.7 252.1 411.7 254.4 414.0 256.0C416.3 257.6 418.0 258.5 420.0 259.5C422.0 260.5 423.3 261.3 426.0 262.0C428.7 262.7 432.3 263.2 436.0 263.8C439.7 264.4 444.0 264.9 448.0 265.4C452.0 265.9 456.0 266.3 460.0 266.8C464.0 267.3 468.7 268.0 472.0 268.6C475.3 269.2 477.0 269.8 480.0 270.2C483.0 270.6 485.8 270.9 490.0 271.2C494.2 271.5 500.0 271.7 505.0 271.9C510.0 272.1 517.5 272.2 520.0 272.3L534.3 273.0" stroke-width="1.5"/>
<path d="M166.0 274.0C166.7 273.0 168.5 270.2 170.0 268.0C171.5 265.8 173.2 263.5 175.0 261.0C176.8 258.5 178.8 255.5 181.0 253.0C183.2 250.5 186.2 248.2 188.0 246.0C189.8 243.8 190.7 242.0 192.0 240.0C193.3 238.0 194.0 237.0 196.0 234.0C198.0 231.0 201.3 226.0 204.0 222.0C206.7 218.0 209.3 214.0 212.0 210.0C214.7 206.0 217.7 201.1 220.0 198.0C222.3 194.9 224.0 193.8 225.6 191.5C227.2 189.2 228.3 186.7 229.7 184.4C231.1 182.1 232.4 179.9 233.8 177.8C235.2 175.7 236.8 173.7 238.2 171.6C239.6 169.5 240.9 167.6 242.2 165.3C243.5 163.0 244.7 160.4 246.0 157.8C247.3 155.2 248.5 152.5 249.8 150.0C251.1 147.5 252.6 145.3 254.0 143.0C255.4 140.7 256.8 138.1 258.5 136.0C260.2 133.9 262.3 131.9 264.0 130.5C265.7 129.1 267.2 128.3 268.5 127.5C269.8 126.7 270.8 125.8 272.0 125.5C273.2 125.2 274.8 125.4 276.0 126.0C277.2 126.6 278.0 127.5 279.0 129.0C280.0 130.5 281.0 132.8 282.0 135.0C283.0 137.2 284.0 139.8 285.0 142.0C286.0 144.2 286.8 146.4 288.0 148.0C289.2 149.6 290.5 150.2 292.0 151.5C293.5 152.8 295.2 154.2 297.0 155.5C298.8 156.8 301.2 158.2 303.0 159.5C304.8 160.8 306.6 161.6 308.0 163.0C309.4 164.4 310.6 166.2 311.5 168.0C312.4 169.8 312.9 172.2 313.6 174.0C314.4 175.8 315.0 176.5 316.0 178.5C317.0 180.5 318.4 183.4 319.5 186.0C320.6 188.6 321.5 191.5 322.5 194.0C323.5 196.5 324.5 198.7 325.5 201.0C326.5 203.3 327.4 205.7 328.5 208.0C329.6 210.3 330.4 211.8 332.0 215.0C333.6 218.2 335.7 222.7 338.0 227.0C340.3 231.3 343.3 237.0 346.0 241.0C348.7 245.0 351.0 248.0 354.0 251.0C357.0 254.0 360.3 257.0 364.0 259.0C367.7 261.0 371.7 262.1 376.0 263.0C380.3 263.9 385.7 264.0 390.0 264.5C394.3 265.0 398.0 265.4 402.0 266.0C406.0 266.6 410.3 267.2 414.0 268.0C417.7 268.8 419.7 270.3 424.0 271.0C428.3 271.7 434.0 272.1 440.0 272.4C446.0 272.7 453.3 272.9 460.0 273.0C466.7 273.1 476.7 273.2 480.0 273.2L534.3 273.0" stroke-width="1.5"/>
<path d="M100 274.0L163.0 274.0C163.7 273.0 165.5 270.3 167.0 268.0C168.5 265.7 170.0 262.8 172.0 260.0C174.0 257.2 176.7 253.7 179.0 251.0C181.3 248.3 184.2 246.2 186.0 244.0C187.8 241.8 188.7 240.3 190.0 238.0C191.3 235.7 192.2 233.7 194.0 230.0C195.8 226.3 198.7 220.7 201.0 216.0C203.3 211.3 205.8 206.7 208.0 202.0C210.2 197.3 212.0 192.0 214.0 188.0C216.0 184.0 218.0 181.0 220.0 178.0C222.0 175.0 224.0 173.0 226.0 170.0C228.0 167.0 230.0 163.7 232.0 160.0C234.0 156.3 236.2 151.5 238.0 148.0C239.8 144.5 241.2 141.9 243.0 139.0C244.8 136.1 246.9 133.4 249.0 130.7C251.1 127.9 253.4 124.8 255.6 122.5C257.8 120.2 260.1 118.4 262.0 117.0C263.9 115.6 265.3 114.9 267.0 114.3C268.7 113.7 270.3 113.1 272.0 113.5C273.7 113.9 275.5 115.1 277.0 116.5C278.5 117.9 279.7 120.1 281.0 122.0C282.3 123.9 283.5 125.7 285.0 128.0C286.5 130.3 288.2 133.3 290.0 136.0C291.8 138.7 293.8 141.3 296.0 144.0C298.2 146.7 300.7 149.2 303.0 152.0C305.3 154.8 307.5 157.7 310.0 161.0C312.5 164.3 315.3 168.2 318.0 172.0C320.7 175.8 323.5 180.0 326.0 184.0C328.5 188.0 330.7 192.3 333.0 196.0C335.3 199.7 337.7 202.3 340.0 206.0C342.3 209.7 344.3 214.2 347.0 218.0C349.7 221.8 352.8 225.7 356.0 229.0C359.2 232.3 362.7 235.5 366.0 238.0C369.3 240.5 372.0 242.0 376.0 244.0C380.0 246.0 385.7 248.0 390.0 250.0C394.3 252.0 398.3 253.8 402.0 256.0C405.7 258.2 408.3 261.2 412.0 263.0C415.7 264.8 419.3 266.1 424.0 267.0C428.7 267.9 434.0 268.0 440.0 268.6C446.0 269.2 454.0 270.0 460.0 270.6C466.0 271.2 470.2 271.6 476.0 272.0C481.8 272.4 487.7 273.0 495.0 273.2C502.3 273.4 515.8 273.2 520.0 273.2L533.6 273.0" stroke-width="2.8" stroke-linecap="round" stroke-dasharray="5.5 6.5" stroke-dashoffset="-2"/>
</g>
<g stroke="#000" stroke-width="1.9" fill="none" stroke-linecap="square">
<path d="M99.1 4.2H534.3V274.2H99.1Z"/>
<path d="M99.10 274.2v-5M126.30 274.2v-3M153.50 274.2v-5M180.70 274.2v-3M207.90 274.2v-5M235.10 274.2v-3M262.30 274.2v-5M289.50 274.2v-3M316.70 274.2v-5M343.90 274.2v-3M371.10 274.2v-5M398.30 274.2v-3M425.50 274.2v-5M452.70 274.2v-3M479.90 274.2v-5M507.10 274.2v-3M534.30 274.2v-5M99.1 274.20h5M99.1 248.63h3M99.1 223.06h5M99.1 197.49h3M99.1 171.92h5M99.1 146.35h3M99.1 120.78h5M99.1 95.21h3M99.1 69.64h5M99.1 44.07h3M99.1 18.50h5" stroke-width="1.3" stroke-linecap="butt"/>
</g>
<g font-family="'Liberation Serif', serif" fill="#000">
<g font-size="24" text-anchor="middle">
<text x="99.10" y="298.2">0</text>
<text x="153.50" y="298.2">1</text>
<text x="207.90" y="298.2">2</text>
<text x="262.30" y="298.2">3</text>
<text x="316.70" y="298.2">4</text>
<text x="371.10" y="298.2">5</text>
<text x="425.50" y="298.2">6</text>
<text x="479.90" y="298.2">7</text>
<text x="534.30" y="298.2">8</text>
<text x="317.1" y="319.6">Time (ms)</text>
<text transform="translate(22.3,141.5) rotate(-90)">SINL (a.u.)</text>
</g>
<g font-size="24" text-anchor="end">
<text x="92.9" y="281.80">0</text>
<text x="92.9" y="230.66">7,000</text>
<text x="92.9" y="179.52">14,000</text>
<text x="92.9" y="128.38">21,000</text>
<text x="92.9" y="77.24">28,000</text>
<text x="92.9" y="26.10">35,000</text>
</g>
<g font-size="21">
<text x="321.8" y="39.9">Altitude 0 m</text>
<text x="463.5" y="66" text-anchor="end">3,000 m</text>
<text x="463.5" y="92" text-anchor="end">4,500 m</text>
</g></g>
<g fill="none" stroke-width="2.7" stroke-linecap="round">
<path d="M474.5 32.5H522.3" stroke="#000"/>
<path d="M473.8 59H489.1M496.9 59H499.5M507.7 59H521.8" stroke="#0000ff"/>
<path d="M473.8 85.4H479.4M485.4 85.4H491M497.6 85.4H503.6M509.7 85.4H516.3" stroke="#ff0000"/>
</g>
</svg>
</body></html>
